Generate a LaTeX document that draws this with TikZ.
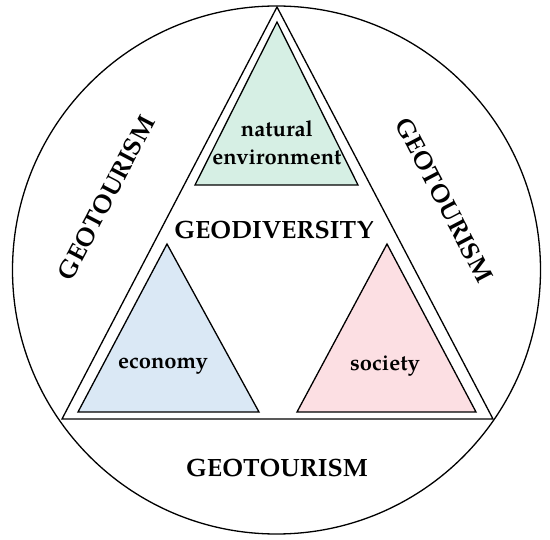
\documentclass[tikz,border=0pt]{standalone}
\usepackage{fontspec}
\setmainfont{TeX Gyre Pagella}
\definecolor{natgreen}{RGB}{214,239,228}
\definecolor{ecoblue}{RGB}{218,232,245}
\definecolor{socpink}{RGB}{252,223,227}
\begin{document}
\begin{tikzpicture}[x=1pt,y=-1pt, line width=1.3pt,
  tri/.style={draw=black, line join=miter},
  captext/.style={inner sep=0pt, font=\fontsize{25}{28}\selectfont\bfseries},
  lab/.style={inner sep=0pt, align=center, font=\fontsize{22}{28}\selectfont\bfseries}]
\useasboundingbox (0,0) rectangle (550,540);
% outer circle
\draw (276.5,270) circle (264);
% big triangle
\draw[tri] (277,7) -- (62,419) -- (493,419) -- cycle;
% inner triangles
\draw[tri, fill=natgreen] (277,22) -- (195,185) -- (358,185) -- cycle;
\draw[tri, fill=ecoblue] (167,244) -- (78,412) -- (259,412) -- cycle;
\draw[tri, fill=socpink] (387,244) -- (297,412) -- (476,412) -- cycle;
% labels
\node[lab] (nat) at (277,143) {natural\\environment};
\node[lab] (eco) at (163,366) {economy};
\node[lab] (soc) at (385,366) {society};
\node[captext] (geodiv) at (274,230) {GEODIVERSITY};
\node[captext] (gtb) at (277,468) {GEOTOURISM};
\node[captext, rotate=62.4] (gtl) at (106,198) {GEOTOURISM};
\node[captext, rotate=-62.4] (gtr) at (444,200) {GEOTOURISM};
\end{tikzpicture}
\end{document}
